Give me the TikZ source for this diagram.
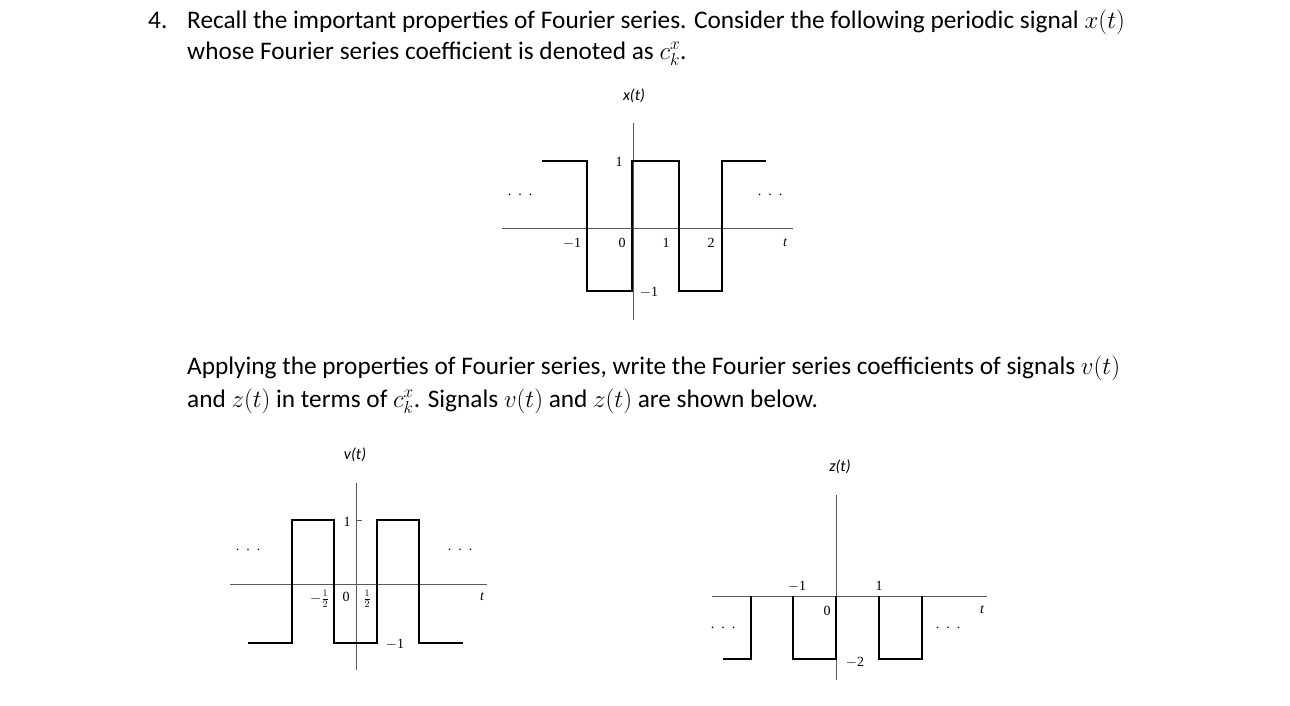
\documentclass[tikz,border=0pt]{standalone}
\usepackage{fontspec}
\setmainfont{Carlito}
\newfontfamily\plotfont{Liberation Serif}
\begin{document}
\begin{tikzpicture}[x=1pt,y=-1pt,
  sig/.style={line width=1.8pt,line join=miter},
  ax/.style={line width=0.8pt,gray!70!black},
  lbl/.style={font=\plotfont\fontsize{14}{14}\selectfont,inner sep=0pt},
  tl/.style={font=\plotfont\itshape\fontsize{14}{14}\selectfont,inner sep=0pt},
  title/.style={font=\fontsize{16}{16}\selectfont\itshape,inner sep=0pt},
  body/.style={font=\fontsize{25.3}{25}\selectfont,anchor=base west,inner sep=0pt}]
\useasboundingbox (0,0) rectangle (1290,705);
% text
\node[body] (n4) at (148,28) {4.};
\node[body] (l1) at (187,28) {Recall the important properties of Fourier series. Consider the following periodic signal $x(t)$};
\node[body] (l2) at (187,59) {whose Fourier series coefficient is denoted as $c_k^x$.};
\node[body] (l3) at (187,374) {Applying the properties of Fourier series, write the Fourier series coefficients of signals $v(t)$};
\node[body] (l4) at (187,407) {and $z(t)$ in terms of $c_k^x$. Signals $v(t)$ and $z(t)$ are shown below.};
% x(t)
\node[title] (xt) at (634,96) {x(t)};
\draw[ax] (502,228) -- (793,228);
\draw[ax] (633,123) -- (633,320);
\draw[sig] (542,161) -- (587,161) -- (587,291) -- (632,291) -- (632,161) -- (679,161) -- (679,291) -- (722,291) -- (722,161) -- (766,161);
\node[lbl] (x1) at (619,162) {1};
\node[lbl] (xm1) at (572,243) {$-$1};
\node[lbl] (x0) at (622,243) {0};
\node[lbl] (x1b) at (666,243) {1};
\node[lbl] (x2) at (711,243) {2};
\node[tl] (xtt) at (785,243) {t};
\node[lbl] (xm1b) at (649,292) {$-$1};
\node[lbl] (xd1) at (520,195) {.\ \ .\ \ .};
\node[lbl] (xd2) at (770,195) {.\ \ .\ \ .};
% v(t)
\node[title] (vt) at (355,455) {v(t)};
\draw[ax] (230,584) -- (487,584);
\draw[ax] (356,483) -- (356,670);
\draw[ax] (356,520) -- (362,520);
\draw[sig] (248,643) -- (292,643) -- (292,520) -- (334,520) -- (334,643) -- (377,643) -- (377,520) -- (419,520) -- (419,643) -- (463,643);
\node[lbl] (v1) at (347,522) {1};
\node[lbl,anchor=east] (vmh) at (329,599) {$-\frac{1}{2}$};
\node[lbl] (v0) at (346,597) {0};
\node[lbl] (vh) at (367,599) {$\frac{1}{2}$};
\node[tl] (vtt) at (482,597) {t};
\node[lbl] (vm1) at (395,644) {$-$1};
\node[lbl] (vd1) at (248,550) {.\ \ .\ \ .};
\node[lbl] (vd2) at (460,550) {.\ \ .\ \ .};
% z(t)
\node[title] (zt) at (840,467) {z(t)};
\draw[ax] (712,596) -- (987,596);
\draw[ax] (836,495) -- (836,680);
\draw[sig] (723,659) -- (751,659) -- (751,596);
\draw[sig] (793,596) -- (793,659) -- (836,659) -- (836,596);
\draw[sig] (879,596) -- (879,659) -- (922,659) -- (922,596);
\node[lbl] (zm1) at (797,586) {$-$1};
\node[lbl] (z1) at (879,586) {1};
\node[lbl] (z0) at (827,611) {0};
\node[tl] (ztt) at (982,610) {t};
\node[lbl] (zm2) at (855,662) {$-$2};
\node[lbl] (zd1) at (723,628) {.\ \ .\ \ .};
\node[lbl] (zd2) at (948,628) {.\ \ .\ \ .};
\end{tikzpicture}
\end{document}
